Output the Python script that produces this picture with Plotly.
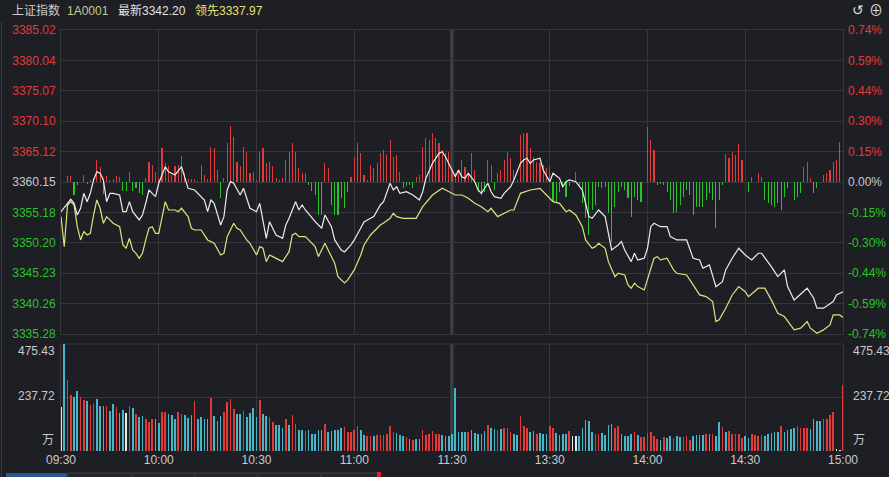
import plotly.graph_objects as go

W, H = 889, 477

# ------------------------------------------------------------------ data
prev_close = 3360.15
latest = 3342.20
leading = 3337.97

price_ticks = [3385.02, 3380.04, 3375.07, 3370.10, 3365.12, 3360.15,
               3355.18, 3350.20, 3345.23, 3340.26, 3335.28]
pct_labels = ["0.74%", "0.59%", "0.44%", "0.30%", "0.15%", "0.00%",
              "-0.15%", "-0.30%", "-0.44%", "-0.59%", "-0.74%"]
time_ticks = [0, 30, 60, 90, 120, 150, 180, 210, 240]
time_labels = ["09:30", "10:00", "10:30", "11:00", "11:30",
               "13:30", "14:00", "14:30", "15:00"]
vol_ticks = [237.72, 475.43]
vol_labels = ["237.72", "475.43"]

# index (white line): minute index from 09:30, value
white_min = [0, 2, 3, 4, 5, 6, 7, 8, 9, 10, 11, 12, 13, 14, 15, 16, 18, 19, 20, 21,
             22, 24, 25, 26, 27, 28, 29, 30, 32, 33, 35, 37, 39, 41, 44, 45, 46, 47, 49, 50,
             51, 52, 53, 55, 56, 58, 60, 61, 63, 64, 66, 68, 69, 70, 72, 73, 74, 75, 78, 80,
             81, 83, 84, 86, 87, 89, 90, 92, 93, 95, 96, 98, 99, 101, 102, 103, 104, 106, 108, 110,
             111, 112, 114, 116, 117, 118, 119, 121, 122, 123, 124, 125, 127, 128, 129, 131, 132, 133, 135, 136,
             138, 139, 141, 142, 143, 144, 145, 147, 148, 150, 151, 153, 154, 155, 156, 158, 160, 161, 162, 163,
             165, 167, 168, 169, 171, 172, 173, 175, 176, 177, 179, 180, 181, 182, 184, 186, 187, 189, 192, 194,
             196, 197, 199, 201, 203, 204, 206, 208, 210, 212, 214, 215, 218, 220, 222, 223, 225, 228, 229, 231,
             232, 234, 237, 238, 240]
white_val = [3355.29, 3356.67, 3357.32, 3356.67, 3354.75, 3355.85, 3358.30, 3356.93, 3358.30, 3360.48,
             3361.83, 3361.57, 3360.48, 3356.93, 3358.30, 3358.30, 3358.02, 3355.29, 3355.29, 3356.93,
             3355.29, 3353.94, 3354.75, 3356.67, 3358.84, 3358.30, 3357.75, 3359.94, 3362.65, 3361.83,
             3361.30, 3362.65, 3359.12, 3358.84, 3357.21, 3355.29, 3357.21, 3356.67, 3353.12, 3354.48,
             3358.84, 3360.20, 3359.94, 3358.02, 3359.12, 3355.85, 3355.29, 3356.67, 3350.94, 3353.66,
             3351.48, 3350.94, 3353.12, 3354.21, 3356.93, 3355.57, 3356.39, 3355.57, 3353.66, 3352.58,
             3354.75, 3352.84, 3350.67, 3349.03, 3348.70, 3349.85, 3350.67, 3352.63, 3353.61, 3354.21,
             3354.48, 3356.39, 3356.93, 3359.94, 3358.84, 3359.38, 3358.30, 3358.56, 3358.02, 3357.21,
             3358.56, 3360.76, 3363.21, 3364.84, 3365.10, 3364.29, 3363.21, 3361.02, 3362.11, 3361.02,
             3360.76, 3361.57, 3360.20, 3358.84, 3358.30, 3359.94, 3358.56, 3357.75, 3357.49, 3358.30,
             3359.38, 3360.48, 3363.21, 3363.75, 3364.03, 3363.21, 3363.75, 3364.03, 3362.11, 3360.20,
             3361.57, 3360.76, 3359.38, 3360.20, 3360.48, 3360.20, 3358.84, 3356.67, 3354.48, 3354.21,
             3355.57, 3354.48, 3351.48, 3349.03, 3349.85, 3350.39, 3349.03, 3347.12, 3348.49, 3347.40,
             3347.67, 3349.31, 3352.84, 3353.40, 3352.84, 3352.84, 3351.21, 3350.67, 3350.67, 3347.67,
             3347.40, 3346.04, 3346.58, 3343.03, 3343.85, 3345.76, 3347.67, 3349.31, 3348.21, 3347.40,
             3348.49, 3348.49, 3346.30, 3344.67, 3345.76, 3343.03, 3340.86, 3342.21, 3342.77, 3341.13,
             3339.50, 3339.50, 3340.58, 3341.67, 3342.20]

# leading index (yellow line)
yellow_min = [0, 1, 2, 3, 4, 5, 6, 7, 8, 9, 10, 11, 12, 13, 14, 16, 18, 19, 20, 21,
              22, 23, 24, 25, 26, 27, 28, 29, 30, 32, 33, 35, 36, 37, 39, 40, 41, 43, 45, 46,
              47, 49, 50, 51, 53, 54, 55, 56, 57, 58, 60, 61, 62, 63, 64, 65, 68, 70, 71, 72,
              73, 75, 76, 78, 79, 81, 82, 84, 85, 87, 88, 90, 92, 93, 95, 98, 99, 101, 102, 103,
              105, 107, 109, 111, 114, 117, 119, 121, 123, 125, 127, 129, 131, 132, 134, 136, 138, 139, 141, 144,
              147, 149, 151, 153, 155, 156, 158, 160, 161, 163, 164, 165, 167, 168, 170, 171, 173, 174, 175, 176,
              177, 179, 180, 182, 183, 184, 186, 188, 189, 192, 194, 196, 198, 200, 201, 202, 204, 206, 208, 210,
              211, 214, 216, 218, 220, 222, 225, 227, 229, 230, 232, 234, 236, 237, 239, 240]
yellow_val = [3354.48, 3349.57, 3356.39, 3356.93, 3356.39, 3352.84, 3350.67, 3352.02, 3351.48, 3351.76,
              3354.75, 3357.21, 3355.85, 3353.40, 3354.48, 3353.40, 3352.84, 3349.85, 3349.31, 3350.94,
              3349.03, 3348.49, 3347.67, 3348.49, 3350.67, 3352.58, 3352.84, 3351.76, 3351.76, 3356.93,
              3355.57, 3355.57, 3355.29, 3355.85, 3354.48, 3352.58, 3352.30, 3352.30, 3350.67, 3350.39,
              3350.13, 3348.21, 3348.49, 3351.21, 3353.40, 3352.58, 3352.30, 3351.48, 3350.67, 3350.13,
              3348.21, 3349.57, 3349.31, 3347.12, 3348.21, 3347.94, 3347.12, 3348.75, 3351.48, 3351.76,
              3351.21, 3351.21, 3350.67, 3349.57, 3347.94, 3350.13, 3349.03, 3346.86, 3344.67, 3343.64,
              3344.13, 3345.76, 3348.21, 3349.85, 3351.48, 3353.12, 3353.45, 3354.21, 3355.03, 3354.48,
              3354.21, 3354.26, 3354.21, 3356.11, 3358.02, 3359.12, 3358.56, 3358.02, 3358.02, 3357.49,
              3356.67, 3356.11, 3355.29, 3355.85, 3354.48, 3355.03, 3355.57, 3355.57, 3358.30, 3358.84,
              3359.12, 3358.02, 3356.93, 3356.66, 3355.29, 3355.57, 3354.75, 3352.84, 3350.67, 3349.31,
              3349.57, 3350.13, 3349.31, 3347.12, 3344.67, 3345.22, 3344.94, 3343.31, 3342.77, 3343.59,
              3343.03, 3342.49, 3344.13, 3347.67, 3347.94, 3347.40, 3347.67, 3345.76, 3345.22, 3344.94,
              3343.31, 3341.67, 3341.40, 3340.58, 3337.31, 3337.59, 3339.50, 3341.67, 3343.03, 3342.21,
              3341.40, 3342.77, 3342.77, 3340.86, 3338.68, 3338.13, 3335.95, 3336.23, 3337.31, 3336.23,
              3335.41, 3335.95, 3336.77, 3338.40, 3338.40, 3337.97]

# red/green strength bars, one per minute (positive = red, negative = green)
strength = [0, 0, 6, 6, -13, -3, 0, 7, -2, 2,
            4, 22, 15, -12, 6, 2, 3, 6, 5, -9,
            -9, 10, -9, -6, -11, -13, 4, 20, 17, 10,
            4, 34, 19, 16, 7, 16, 17, 26, 9, 3,
            3, 3, 1, 17, 7, 3, 35, 34, 12, -16,
            4, 39, 56, 45, 20, 16, 35, 30, 9, 10,
            2, 30, 34, 19, 20, 16, 4, 2, 4, 22,
            30, 39, 30, 14, 9, 9, -3, -9, -13, -33,
            -33, 19, 14, -23, -33, -33, -16, -26, -10, 5,
            25, 39, 29, 7, 2, 17, 14, 19, 29, 32,
            27, 42, 25, 27, 10, -6, -4, -3, -6, 5,
            7, 35, 44, 42, 49, 44, 39, 32, 29, 30,
            12, 9, 12, 22, 15, 9, 29, 12, -10, -13,
            -10, 22, 17, -8, 9, 12, 22, 30, 24, 12,
            2, 47, 49, 49, 34, 25, 20, 19, 17, 14,
            15, -20, -21, -10, -6, -15, -4, 0, 10, -3,
            -21, -36, -53, -28, -23, -5, -6, -5, -31, -60,
            -25, -10, -5, -8, -16, -35, -15, -18, -20, 0,
            55, 42, 32, -3, -2, -3, -10, -18, -31, -30,
            -23, -15, -8, -13, -33, -25, -25, -25, -18, -11,
            -18, -46, -18, -3, 28, 24, 30, 27, 38, 22,
            0, -10, 5, 0, 9, 5, -18, -21, -23, -25,
            -21, -28, -15, -6, 0, -18, -15, -11, 15, 20,
            4, -11, -6, 0, 7, 9, 12, 20, 22, 40,
            0]

# volume (万), one per minute
volume = [196, 475.43, 315, 248, 241, 266, 241, 226, 222, 204,
          208, 230, 199, 199, 199, 178, 208, 196, 169, 181,
          169, 199, 189, 166, 152, 155, 144, 129, 140, 144,
          125, 174, 174, 166, 159, 140, 174, 164, 159, 148,
          159, 221, 144, 149, 144, 140, 236, 155, 134, 155,
          174, 218, 230, 186, 166, 166, 178, 149, 169, 189,
          149, 226, 166, 155, 149, 129, 117, 114, 103, 144,
          114, 159, 122, 95, 92, 89, 95, 77, 77, 92,
          95, 119, 85, 89, 92, 92, 104, 107, 85, 85,
          92, 110, 92, 70, 65, 65, 65, 70, 70, 70,
          77, 111, 85, 80, 70, 65, 62, 55, 51, 55,
          55, 92, 70, 74, 88, 77, 77, 70, 65, 65,
          74, 281, 85, 85, 85, 85, 92, 80, 77, 77,
          89, 117, 104, 97, 92, 97, 102, 102, 85, 77,
          73, 155, 110, 100, 85, 88, 77, 80, 74, 77,
          110, 100, 80, 70, 77, 77, 89, 65, 65, 65,
          100, 139, 134, 85, 74, 77, 80, 70, 114,
          119, 104, 110, 74, 65, 65, 74, 85, 70, 62,
          62, 80, 85, 65, 55, 48, 62, 59, 65, 59,
          65, 62, 62, 65, 48, 65, 70, 70, 70, 74,
          74, 77, 65, 129, 107, 85, 89, 77, 77, 77,
          59, 65, 59, 74, 70, 65, 70, 65, 74, 80,
          85, 85, 111, 85, 92, 97, 100, 110, 104, 100,
          100, 97, 140, 134, 134, 144, 144, 159, 174, 10,
          6, 293]
# volume bar direction per minute: R up, C down, W flat
volume_dir = ("WCRRCCRRCR" "RCCCRCCRCC" "WRCRCCRRRC" "CRRCCCRRCC"
              "CRCCCCRCCC" "RRRRCCRCCC" "CRCCRRCCCR" "CRRCCRCCCC" "CRCCCCCRRR"
              "RRCCRRCRRR" "RRRCCCRCRC" "CRRRRRRCCC" "CCCCCRCCCC" "CRCCRCRRRC"
              "CRRRCCRCCC" "RRCCCCRWWC" "CCCCRRCCC"
              "CRRCCCCRCR" "RRRRRCRCCR" "CCRRRCCCCR" "CRCCRCRRRR" "RCCRRRRCCC"
              "CCRCCCCRRR" "RCCCCRRRRW" "WR")

# ------------------------------------------------------------------ style
BG = "#1e1f24"
GRID = "#36373c"
GRID_MID = "#46474c"
RED = "#e03a3a"
GREEN = "#27c427"
CYAN = "#47b6c7"
WHITE = "#ececec"
YELLOW = "#e2e07c"
TXT = "#c8c9cb"
FONT = "Liberation Sans, Arial, Noto Sans CJK SC, sans-serif"

X0, X1 = 61, 843          # plot area left/right (px)
MT, MB = 30, 334          # price panel top/bottom (px)
VT, VB = 344, 451         # volume panel top/bottom (px)


def px(x):
    return x / W


def py(y):
    return 1 - y / H


def col_for(v, ref):
    if v > ref + 1e-9:
        return RED
    if v < ref - 1e-9:
        return GREEN
    return TXT


minutes = list(range(len(strength)))
vol_minutes = list(range(len(volume)))
dir_color = {"R": RED, "C": CYAN, "W": "#e8e8e8"}

fig = go.Figure()

fig.add_trace(go.Bar(
    x=minutes, y=strength, xaxis="x", yaxis="y", width=0.34,
    marker=dict(color=[RED if v > 0 else GREEN for v in strength], line=dict(width=0)),
    hoverinfo="skip"))

fig.add_trace(go.Scatter(
    x=yellow_min, y=yellow_val, xaxis="x", yaxis="y3", mode="lines",
    line=dict(color=YELLOW, width=1.2), hoverinfo="skip"))
fig.add_trace(go.Scatter(
    x=white_min, y=white_val, xaxis="x", yaxis="y3", mode="lines",
    line=dict(color=WHITE, width=1.2), hoverinfo="skip"))
fig.add_trace(go.Scatter(
    x=[time_ticks[0], time_ticks[-1]], y=[price_ticks[0], price_ticks[-1]],
    xaxis="x", yaxis="y4", mode="markers", marker=dict(opacity=0), hoverinfo="skip"))

fig.add_trace(go.Bar(
    x=vol_minutes, y=volume, xaxis="x2", yaxis="y2", width=0.5,
    marker=dict(color=[dir_color[c] for c in volume_dir], line=dict(width=0)),
    hoverinfo="skip"))

price_text = ['<span style="color:%s">%.2f</span>' % (col_for(v, prev_close), v) for v in price_ticks]
pct_text = ['<span style="color:%s">%s</span>' % (col_for(v, prev_close), t)
            for v, t in zip(price_ticks, pct_labels)]

prange = [price_ticks[-1], price_ticks[0]]
half = (MB - MT) / 2

fig.update_layout(
    width=W, height=H, margin=dict(l=0, r=0, t=0, b=0, pad=0, autoexpand=False),
    paper_bgcolor=BG, plot_bgcolor=BG, showlegend=False, bargap=0,
    font=dict(family=FONT, size=12, color=TXT),
    xaxis=dict(domain=[px(X0), px(X1)], range=[time_ticks[0], time_ticks[-1]], anchor="y",
               tickvals=time_ticks, showticklabels=False, ticks="", automargin=False,
               showgrid=True, gridcolor=GRID, gridwidth=1, zeroline=False,
               showline=True, mirror=True, linecolor=GRID, linewidth=1, fixedrange=True),
    yaxis=dict(domain=[py(MB), py(MT)], range=[-half, half], visible=False, automargin=False,
               showgrid=False, zeroline=False, fixedrange=True),
    yaxis3=dict(overlaying="y", side="left", anchor="x", range=prange, automargin=False,
                tickvals=price_ticks, ticktext=price_text, ticks="",
                tickfont=dict(size=12, family=FONT),
                showgrid=True, gridcolor=GRID, gridwidth=1, zeroline=False,
                showline=True, mirror=True, linecolor=GRID, linewidth=1,
                ticklabelstandoff=2, fixedrange=True),
    yaxis4=dict(overlaying="y", side="right", anchor="x", range=prange, automargin=False,
                tickvals=price_ticks, ticktext=pct_text, ticks="",
                tickfont=dict(size=12, family=FONT),
                showgrid=False, zeroline=False, showline=False,
                ticklabelstandoff=4, fixedrange=True),
    xaxis2=dict(domain=[px(X0), px(X1)], range=[time_ticks[0], time_ticks[-1]], anchor="y2",
                tickvals=time_ticks, ticktext=time_labels, ticks="", automargin=False,
                tickfont=dict(size=12, family=FONT, color=TXT),
                showgrid=True, gridcolor=GRID, gridwidth=1, zeroline=False,
                showline=False, fixedrange=True),
    yaxis2=dict(domain=[py(VB), py(VT)], range=[0, vol_ticks[-1]], anchor="x2", automargin=False,
                tickvals=vol_ticks, showticklabels=False, ticks="",
                showgrid=True, gridcolor=GRID, gridwidth=1, zeroline=False,
                showline=True, mirror=True, linecolor=GRID, linewidth=1, fixedrange=True),
)

shapes = [
    dict(type="line", xref="x", yref="y domain", x0=time_ticks[4], x1=time_ticks[4], y0=0, y1=1,
         line=dict(color=GRID_MID, width=3), layer="below"),
    dict(type="line", xref="x2", yref="y2 domain", x0=time_ticks[4], x1=time_ticks[4], y0=0, y1=1,
         line=dict(color=GRID_MID, width=3), layer="below"),
    dict(type="line", xref="x2", yref="y2 domain", x0=time_ticks[0], x1=time_ticks[-1], y0=1, y1=1,
         line=dict(color=GRID, width=1), layer="below"),
    dict(type="line", xref="paper", yref="paper", x0=px(1.5), x1=px(1.5), y0=0, y1=py(22),
         line=dict(color="#3a3b40", width=1)),
    # bottom tab strip
    dict(type="rect", xref="paper", yref="paper", x0=px(6), x1=px(67), y0=0, y1=py(473),
         fillcolor="#2b5691", line=dict(width=0)),
]
for a, b in [(68, 132), (132, 195), (195, 258), (258, 321), (321, 378)]:
    shapes.append(dict(type="rect", xref="paper", yref="paper", x0=px(a), x1=px(b), y0=-0.01, y1=py(473),
                       fillcolor="#25262b", line=dict(color="#3c3d42", width=1)))
shapes.append(dict(type="rect", xref="paper", yref="paper", x0=px(377), x1=px(381), y0=0, y1=py(472),
                   fillcolor="#e02020", line=dict(width=0)))
fig.update_layout(shapes=shapes)

ann = []


def add_text(text, x, y, color, size=12, xanchor="left"):
    ann.append(dict(text=text, x=px(x), y=py(y), xref="paper", yref="paper",
                    xanchor=xanchor, yanchor="middle", showarrow=False,
                    font=dict(color=color, size=size, family=FONT)))


add_text("上证指数", 10, 11, TXT)
add_text("1A0001", 65, 11, "#c9c890")
add_text("最新%.2f" % latest, 116, 11, "#e4e4e4")
add_text("领先%.2f" % leading, 193, 11, "#e2e07c")
add_text("↺", 858, 10, "#dcdcdc", size=14, xanchor="center")
add_text("⊕", 876, 10, "#dcdcdc", size=14, xanchor="center")

# volume axis labels
vol_label_y = {vol_labels[1]: 351, vol_labels[0]: 396}
for lab in vol_labels:
    add_text(lab, 57, vol_label_y[lab], TXT, xanchor="right")
    add_text(lab, 851, vol_label_y[lab], TXT, xanchor="left")
add_text("万", 56, 440, TXT, xanchor="right")
add_text("万", 851, 440, TXT, xanchor="left")

fig.update_layout(annotations=ann)

fig.write_html("out.html", config={"displayModeBar": False, "staticPlot": True})
